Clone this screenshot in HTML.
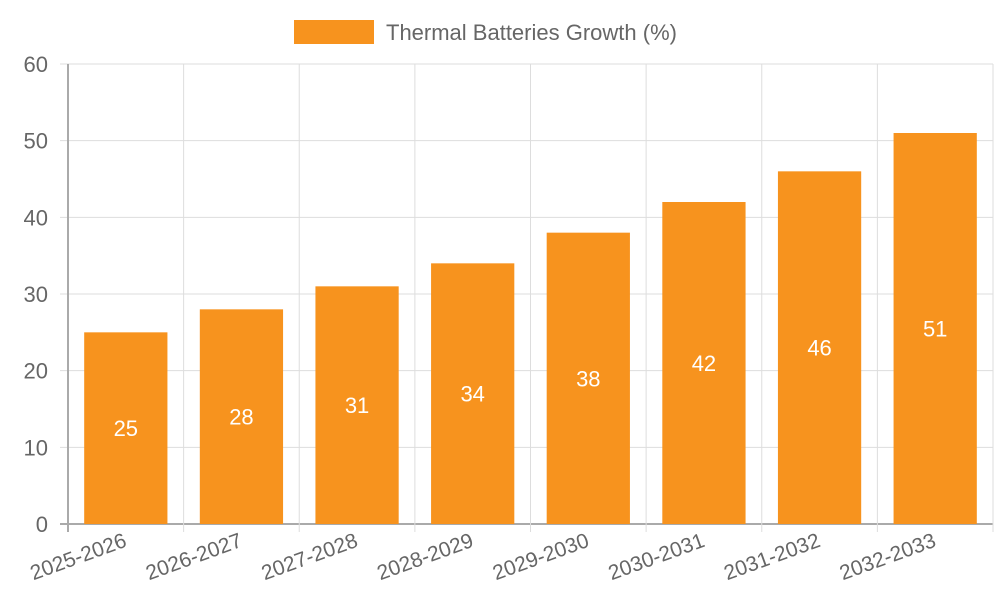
<!DOCTYPE html>
<html><head><meta charset="utf-8"><style>
body{margin:0;background:#fff;font-family:"Liberation Sans",sans-serif}
svg text{font-family:"Liberation Sans",sans-serif}
</style></head><body>
<svg width="1000" height="600" id="chart">
<g id="legend">
<rect x="294" y="20" width="80" height="24" fill="#f7931e"/>
<text x="386" y="40" font-size="22" fill="#666">Thermal Batteries Growth (%)</text>
</g>
<g id="grid"></g><g id="bars"></g><g id="axes"></g>
</svg>
<script>
const categories=["2025-2026","2026-2027","2027-2028","2028-2029","2029-2030","2030-2031","2031-2032","2032-2033"];
const values=[25,28,31,34,38,42,46,51];
const yTicks=[0,10,20,30,40,50,60];
const X0=68,X1=993,Y0=524,Y1=64,YMAX=60;
const NS="http://www.w3.org/2000/svg";
const step=(X1-X0)/categories.length;
const y=v=>Y0-(v/YMAX)*(Y0-Y1);
const xc=i=>X0+step*(i+0.5);
function mk(t,a,p){const e=document.createElementNS(NS,t);for(const k in a)e.setAttribute(k,a[k]);p.appendChild(e);return e;}
const grid=document.getElementById('grid'),bars=document.getElementById('bars'),axes=document.getElementById('axes');
yTicks.forEach(t=>{
 const l=mk('line',{x1:60,x2:X1,y1:y(t),y2:y(t),stroke:t===0?'#aaa':'#ddd','stroke-width':t===0?2:1},grid);
 
 
 const tx=mk('text',{x:48,y:y(t)+8,'text-anchor':'end','font-size':22,fill:'#666'},axes);
 tx.textContent=t;
 
 
});
for(let i=0;i<=categories.length;i++){
 const x=X0+step*i;
 const l=mk('line',{x1:x,x2:x,y1:Y1,y2:Y0+8,stroke:i===0?'#aaa':'#ddd','stroke-width':i===0?2:1},grid);
 
 
}
const bw=step*0.72;
categories.forEach((c,i)=>{
 const v=values[i];
 const r=mk('rect',{x:xc(i)-bw/2,y:y(v),width:bw,height:Y0-y(v),fill:'#f7931e'},bars);
 
 
 const t=mk('text',{x:xc(i),y:(y(v)+Y0)/2+8,'text-anchor':'middle','font-size':22,fill:'#fff'},bars);
 t.textContent=v;
 
 
 const lx=xc(i)+2,ly=Y0+22;
 const xl=mk('text',{x:lx,y:ly,'text-anchor':'end','font-size':21,fill:'#666',transform:`rotate(-20 ${lx} ${ly})`},axes);
 xl.textContent=c;
 
 
});
</script>
</body></html>
